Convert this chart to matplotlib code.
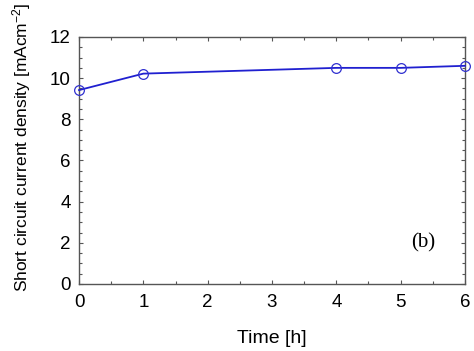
import matplotlib
matplotlib.use("Agg")
import matplotlib.pyplot as plt
from matplotlib.ticker import MultipleLocator

# values
time_h = [0, 1, 4, 5, 6]
jsc = [9.42, 10.22, 10.5, 10.5, 10.6]

plt.rcParams["font.family"] = ["Liberation Sans", "DejaVu Sans"]
plt.rcParams["mathtext.default"] = "regular"

fig = plt.figure(figsize=(4.74, 3.51), dpi=100)
ax = fig.add_axes([0.1667, 0.191, 0.8143, 0.7036])

ax.plot(time_h, jsc, color="#2020d0", linewidth=1.3, marker="o",
        markersize=7, markerfacecolor="none", markeredgecolor="#3030d0",
        markeredgewidth=0.9, clip_on=False, zorder=3)

ax.set_xlim(0, 6)
ax.set_ylim(0, 12)
ax.xaxis.set_major_locator(MultipleLocator(1))
ax.xaxis.set_minor_locator(MultipleLocator(0.5))
ax.yaxis.set_major_locator(MultipleLocator(2))
ax.yaxis.set_minor_locator(MultipleLocator(0.5))
ax.tick_params(which="both", direction="in", top=True, right=True,
               color="#555555", width=0.8)
ax.tick_params(which="major", length=3, labelsize=13.5)
ax.tick_params(axis="x", which="major", pad=7)
ax.tick_params(axis="y", which="major", pad=6)
ax.tick_params(which="minor", length=2)
for s in ax.spines.values():
    s.set_color("#555555")
    s.set_linewidth(1.0)

ax.set_xlabel("Time [h]", fontsize=14, labelpad=14)
ax.set_ylabel("Short circuit current density [mAcm$^{-2}$]", fontsize=12.5)
ax.yaxis.set_label_coords(-0.12, 0.555)

ax.text(5.35, 2.0, "(b)", fontsize=15, family=["Liberation Serif", "DejaVu Serif"],
        ha="center", va="center")

fig.savefig("out.png", dpi=100)
